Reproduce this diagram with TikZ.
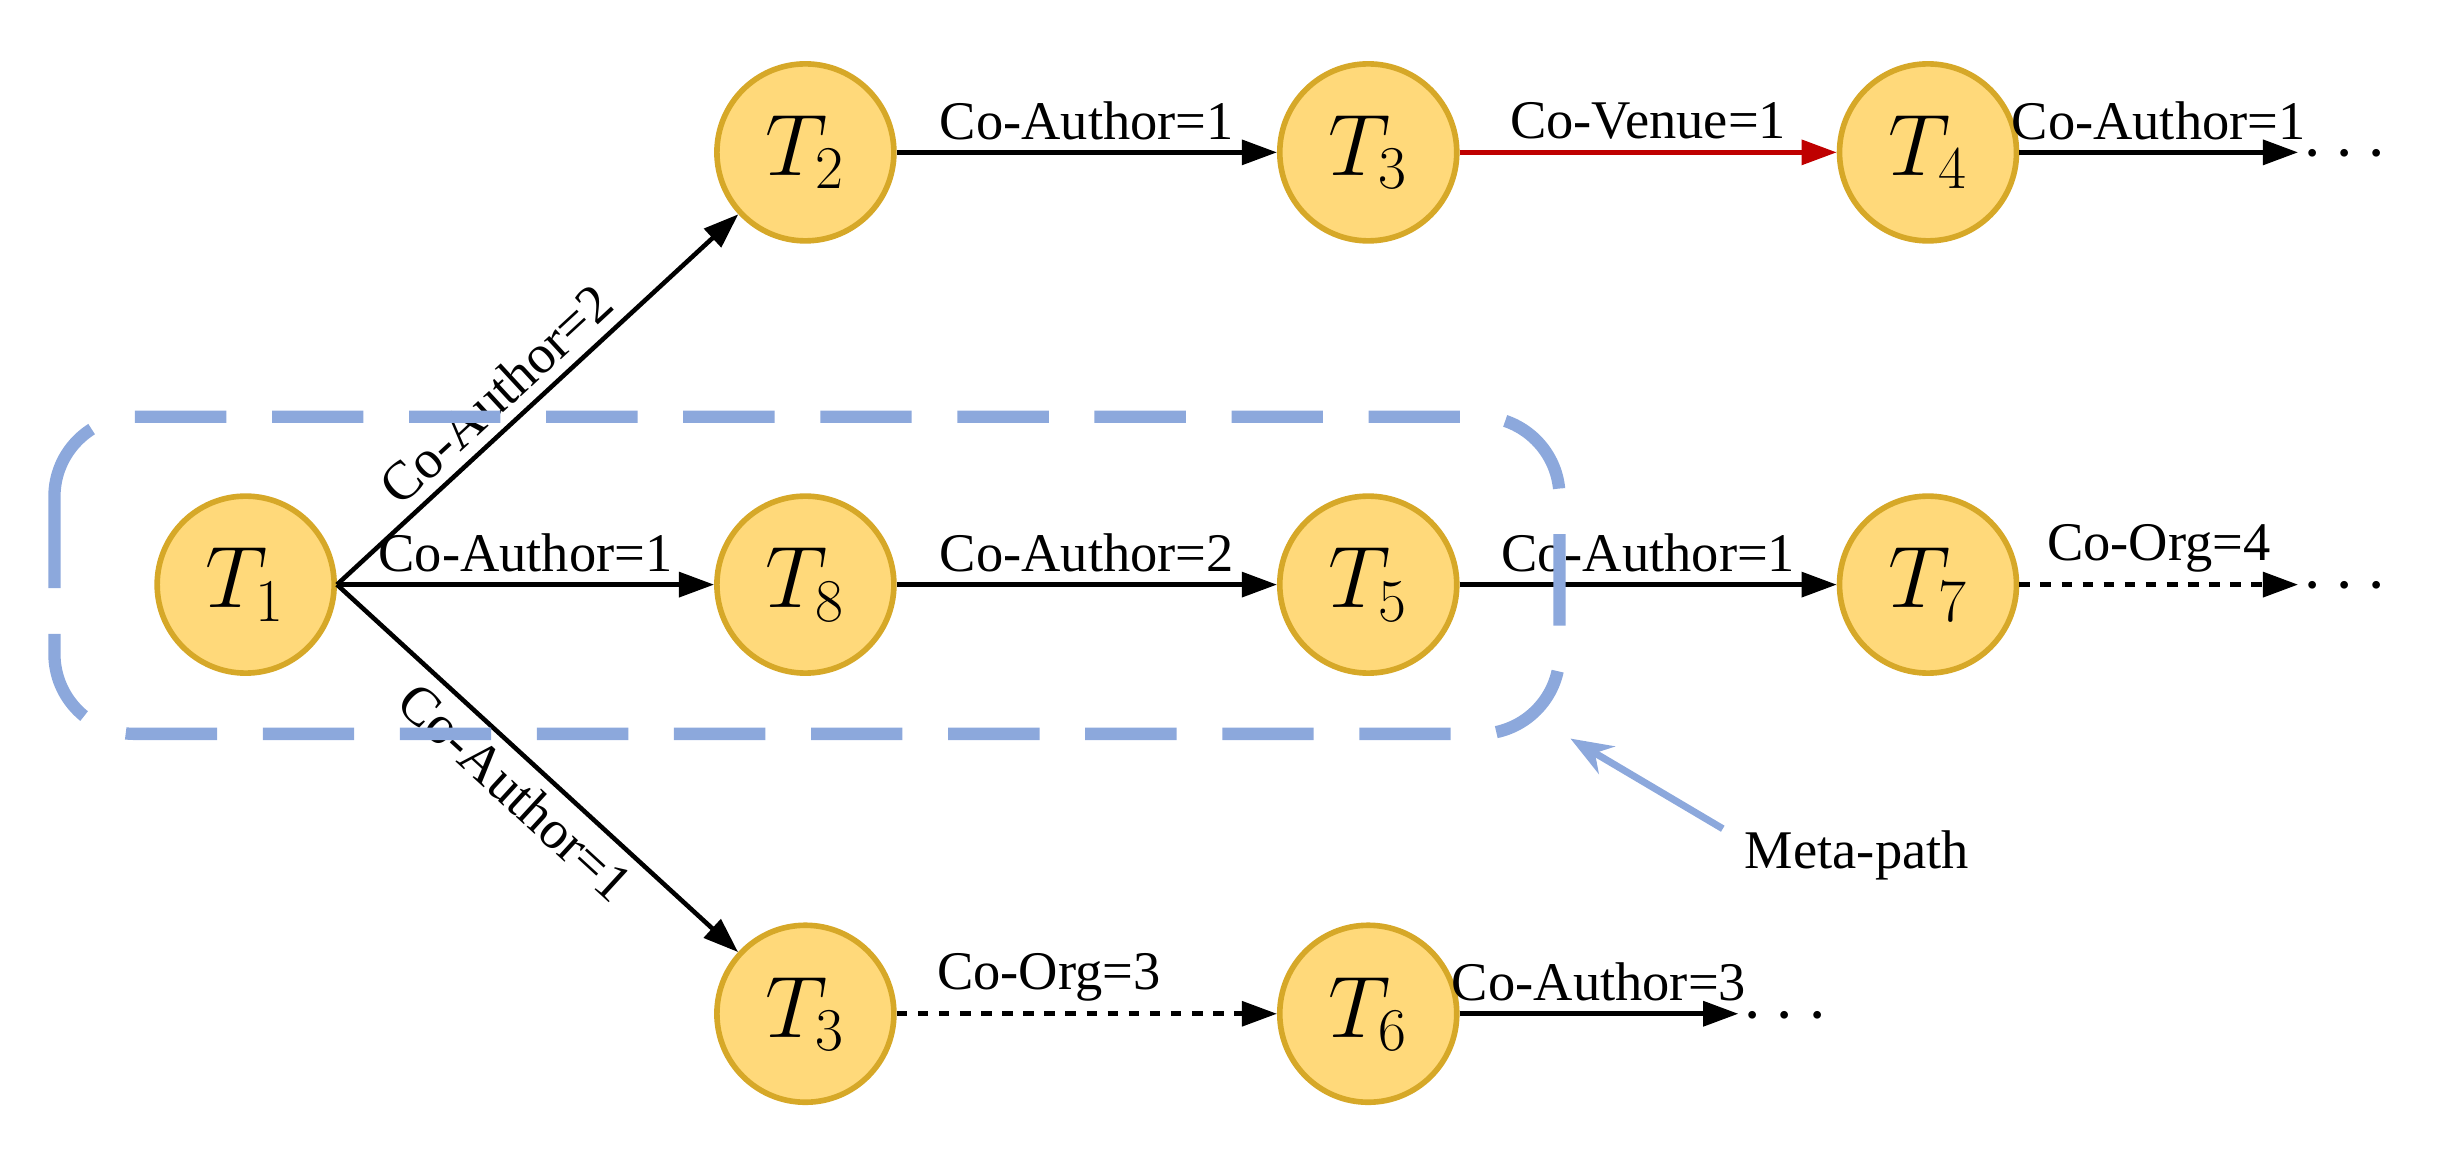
\documentclass[tikz,border=0pt]{standalone}
\usepackage{fontspec}
\setmainfont{Liberation Serif}
\usetikzlibrary{arrows.meta}
\definecolor{bx}{RGB}{140,168,220}
\definecolor{nd}{RGB}{214,168,40}
\definecolor{nf}{RGB}{255,217,122}
\begin{document}
\begin{tikzpicture}[x=0.01555cm,y=-0.01555cm,
  tn/.style={circle,draw=nd,line width=1.6pt,fill=nf,minimum size=1.77cm,inner sep=0pt,font=\fontsize{25}{28}\selectfont},
  ed/.style={-{Triangle[length=10pt,width=7pt]},line width=1.3pt},
  lb/.style={font=\fontsize{15.5}{18}\selectfont,inner sep=3pt}]
\useasboundingbox (0,0) rectangle (1568,740);
\node[tn] (t1) at (158,376) {$T_1$};
\node[tn] (t2) at (518,98) {$T_2$};
\node[tn] (t3) at (880,98) {$T_3$};
\node[tn] (t4) at (1240,98) {$T_4$};
\node[tn] (t8) at (518,376) {$T_8$};
\node[tn] (t5) at (880,376) {$T_5$};
\node[tn] (t7) at (1240,376) {$T_7$};
\node[tn] (t3b) at (518,652) {$T_3$};
\node[tn] (t6) at (880,652) {$T_6$};
\coordinate (e4) at (1478,98);
\coordinate (e7) at (1478,376);
\coordinate (e6) at (1118,652);
\node[font=\fontsize{22}{22}\selectfont] (d4) at (1508,100) {$\cdots$};
\node[font=\fontsize{22}{22}\selectfont] (d7) at (1508,378) {$\cdots$};
\node[font=\fontsize{22}{22}\selectfont] (d6) at (1148,654) {$\cdots$};
\draw[ed] (t1.east) -- node[lb,sloped,above,pos=0.45]{Co-Author=2} (t2);
\draw[ed] (t1.east) -- node[lb,sloped,below,pos=0.5]{Co-Author=1} (t3b);
\draw[ed] (t1.east) -- node[lb,above]{Co-Author=1} (t8);
\draw[ed] (t2) -- node[lb,above]{Co-Author=1} (t3);
\draw[ed,red!75!black] (t3) -- node[lb,above,black]{Co-Venue=1} (t4);
\draw[ed] (t4) -- node[lb,above]{Co-Author=1} (e4);
\draw[ed] (t8) -- node[lb,above]{Co-Author=2} (t5);
\draw[ed] (t5) -- node[lb,above]{Co-Author=1} (t7);
\draw[ed,dashed] (t7) -- node[lb,above]{Co-Org=4} (e7);
\draw[ed,dashed] (t3b) -- node[lb,above,pos=0.4]{Co-Org=3} (t6);
\draw[ed] (t6) -- node[lb,above]{Co-Author=3} (e6);
\draw[bx,line width=3.5pt,dash pattern=on 26pt off 13pt,rounded corners=0.8cm] (35,268) rectangle (1003,472);
\coordinate (mp) at (1108,533);
\node[lb,anchor=west] (mpl) at (1115,550) {Meta-path};
\draw[bx,line width=2pt,-{Stealth[length=12pt,width=9pt]}] (mp) -- (1010,475);
\end{tikzpicture}
\end{document}
